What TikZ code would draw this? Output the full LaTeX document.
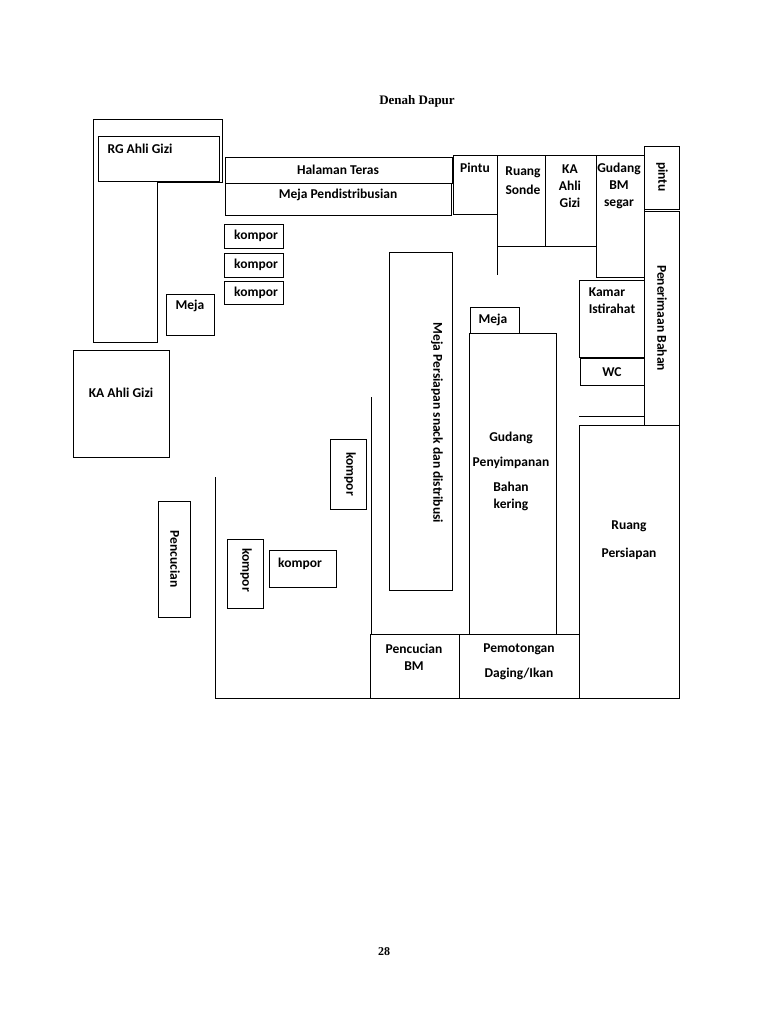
\documentclass[tikz,border=0pt]{standalone}
\usepackage{fontspec}
\setmainfont{Carlito}
\newfontfamily\tnr{Liberation Serif}
\begin{document}
\begin{tikzpicture}[x=1pt,y=-1pt,
  box/.style={draw,line width=0.8pt},
  lbl/.style={font=\bfseries\fontsize{13.5}{17}\selectfont,align=center,inner sep=0pt},
  vl/.style={lbl,rotate=-90}]
\useasboundingbox (0,0) rectangle (768,1024);
\node[font=\tnr\bfseries\fontsize{13}{15}\selectfont] (title) at (417,101) {Denah Dapur};
\node[font=\tnr\bfseries\fontsize{12}{14}\selectfont] (page) at (384,952) {28};
\begin{scope}[line width=0.8pt]
\draw (93,119)--(222,119)--(222,182)--(157,182)--(157,342)--(93,342)--cycle;
\draw (98,136) rectangle (219,181);
\node[lbl] (rg) at (140,149) {RG Ahli Gizi};
\draw (225,157) rectangle (452,183); \node[lbl] (ht) at (338,170) {Halaman Teras};
\draw (225,183) rectangle (451,215); \node[lbl] (mp) at (338,195) {Meja Pendistribusian};
\draw (453,155) rectangle (497,214); \node[lbl] (pintu) at (475,168) {Pintu};
\draw (497,155) rectangle (545,246); \node[lbl] (rs) at (523,181) {Ruang\\[2pt]Sonde};
\draw (545,155) rectangle (596,246); \node[lbl] (ka) at (570,186) {KA\\Ahli\\Gizi};
\draw (596,155) rectangle (644,277); \node[lbl] (gbm) at (619,186) {Gudang\\BM\\segar};
\draw (497,246)--(497,275);
\draw (644,146) rectangle (679,209); \node[vl] (pintu2) at (662,177) {pintu};
\draw (644,211) rectangle (679,425); \node[vl] (pb) at (662,318) {Penerimaan Bahan};
\draw (579,280) rectangle (644,357); \node[lbl,align=left] (kamar) at (612,301) {Kamar\\Istirahat};
\draw (580,358) rectangle (644,385); \node[lbl] (wc) at (612,372) {WC};
\draw (579,416)--(644,416);
\draw (579,425) rectangle (679,698); \node[lbl] (rp) at (629,540) {Ruang\\[11pt]Persiapan};
\draw (224,224) rectangle (283,248); \node[lbl] (k1) at (256,236) {kompor};
\draw (224,253) rectangle (283,277); \node[lbl] (k2) at (256,265) {kompor};
\draw (224,281) rectangle (283,304); \node[lbl] (k3) at (256,293) {kompor};
\draw (166,294) rectangle (214,335); \node[lbl] (meja1) at (190,306) {Meja};
\draw (73,350) rectangle (169,457); \node[lbl] (kag) at (121,393) {KA Ahli Gizi};
\draw (389,252) rectangle (452,590); \node[vl] (mps) at (437,423) {Meja Persiapan snack dan distribusi};
\draw (470,307) rectangle (519,333); \node[lbl] (meja2) at (493,320) {Meja};
\draw (469,333) rectangle (556,634); \node[lbl] (gud) at (511,471) {Gudang\\[8pt]Penyimpanan\\[8pt]Bahan\\kering};
\draw (330,439) rectangle (366,509); \node[vl] (k4) at (350,474) {kompor};
\draw (371,397)--(371,634);
\draw (158,501) rectangle (190,617); \node[vl] (pc) at (175,559) {Pencucian};
\draw (227,539) rectangle (263,608); \node[vl] (k5) at (246,570) {kompor};
\draw (269,550) rectangle (336,587); \node[lbl] (k6) at (300,564) {kompor};
\draw (215,477)--(215,698)--(679,698);
\draw (370,634) rectangle (459,698); \node[lbl] (pbm) at (414,657) {Pencucian\\BM};
\draw (459,634) rectangle (579,698); \node[lbl] (pdi) at (519,662) {Pemotongan\\[8pt]Daging/Ikan};
\end{scope}
\end{tikzpicture}
\end{document}
